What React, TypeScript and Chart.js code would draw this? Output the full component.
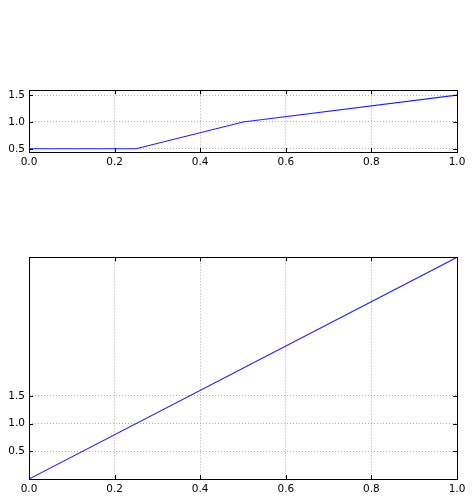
import { useEffect, useRef } from "react";
import { Chart, registerables } from "chart.js";

Chart.register(...registerables);

// top panel
const topX = [0, 0.25, 0.5, 1.0];
const topY = [0.5, 0.5, 1.0, 1.5];
const topYMin = 0.44;
const topYMax = 1.59;

// bottom panel
const bottomX = [0, 1.0];
const bottomY = [0, 4.0];
const bottomYMin = 0;
const bottomYMax = 4;

const xTicks = [0, 0.2, 0.4, 0.6, 0.8, 1.0];
const topYTicks = [0.5, 1.0, 1.5];
const bottomYTicks = [0.5, 1.0, 1.5];

const FONT = { family: "'DejaVu Sans', sans-serif", size: 10.5 };

// black frame + inward ticks, matplotlib classic look
const framePlugin = {
  id: "frame",
  afterDatasetsDraw(chart: any) {
    const { ctx, chartArea: a, scales } = chart;
    ctx.save();
    ctx.strokeStyle = "#000";
    ctx.lineWidth = 1;
    const L = 4;
    ctx.beginPath();
    scales.x.ticks.forEach((t: any) => {
      const px = Math.round(scales.x.getPixelForValue(t.value)) + 0.5;
      ctx.moveTo(px, a.bottom);
      ctx.lineTo(px, a.bottom - L);
      ctx.moveTo(px, a.top);
      ctx.lineTo(px, a.top + L);
    });
    scales.y.ticks.forEach((t: any) => {
      const py = Math.round(scales.y.getPixelForValue(t.value)) + 0.5;
      ctx.moveTo(a.left, py);
      ctx.lineTo(a.left + L, py);
      ctx.moveTo(a.right, py);
      ctx.lineTo(a.right - L, py);
    });
    ctx.stroke();
    ctx.strokeRect(
      Math.round(a.left) + 0.5,
      Math.round(a.top) + 0.5,
      Math.round(a.right - a.left),
      Math.round(a.bottom - a.top)
    );
    ctx.restore();
  },
};

function Panel({
  xs,
  ys,
  yMin,
  yMax,
  yTicks,
  axisHeight,
}: {
  xs: number[];
  ys: number[];
  yMin: number;
  yMax: number;
  yTicks: number[];
  axisHeight: number;
}) {
  const canvasRef = useRef<HTMLCanvasElement | null>(null);

  useEffect(() => {
    if (!canvasRef.current) return;
    const chart = new Chart(canvasRef.current, {
      type: "line",
      data: {
        datasets: [
          {
            data: xs.map((x, i) => ({ x, y: ys[i] })),
            borderColor: "#2020ff",
            borderWidth: 1.1,
            pointRadius: 0,
            tension: 0,
            fill: false,
          },
        ],
      },
      options: {
        animation: false,
        responsive: true,
        maintainAspectRatio: false,
        layout: { padding: { left: 0, right: 17, top: 10, bottom: 0 } },
        plugins: { legend: { display: false }, tooltip: { enabled: false } },
        scales: {
          x: {
            type: "linear",
            min: 0,
            max: 1,
            afterBuildTicks: (s: any) => {
              s.ticks = xTicks.map((v) => ({ value: v }));
            },
            afterFit: (s: any) => {
              s.height = axisHeight;
            },
            ticks: {
              color: "#000",
              font: FONT,
              padding: 4,
              maxRotation: 0,
              autoSkip: false,
              callback: (v: any) => Number(v).toFixed(1),
            },
            grid: { color: "#b0b0b0", lineWidth: 1, drawTicks: false },
            border: { display: false, dash: [1, 2] },
          },
          y: {
            type: "linear",
            min: yMin,
            max: yMax,
            afterBuildTicks: (s: any) => {
              s.ticks = yTicks.map((v) => ({ value: v }));
            },
            afterFit: (s: any) => {
              s.width = 29;
            },
            ticks: {
              color: "#000",
              font: FONT,
              padding: 4,
              autoSkip: false,
              callback: (v: any) => Number(v).toFixed(1),
            },
            grid: { color: "#b0b0b0", lineWidth: 1, drawTicks: false },
            border: { display: false, dash: [1, 2] },
          },
        },
      },
      plugins: [framePlugin],
    });
    return () => chart.destroy();
  }, []);

  return <canvas ref={canvasRef} />;
}

export default function App() {
  return (
    <div
      style={{
        position: "fixed",
        left: 0,
        top: 0,
        width: 474,
        height: 503,
        background: "#fff",
      }}
    >
      <div style={{ position: "absolute", left: 0, top: 80, width: 474, height: 95 }}>
        <Panel xs={topX} ys={topY} yMin={topYMin} yMax={topYMax} yTicks={topYTicks} axisHeight={23} />
      </div>
      <div style={{ position: "absolute", left: 0, top: 247, width: 474, height: 256 }}>
        <Panel
          xs={bottomX}
          ys={bottomY}
          yMin={bottomYMin}
          yMax={bottomYMax}
          yTicks={bottomYTicks}
          axisHeight={24}
        />
      </div>
    </div>
  );
}
